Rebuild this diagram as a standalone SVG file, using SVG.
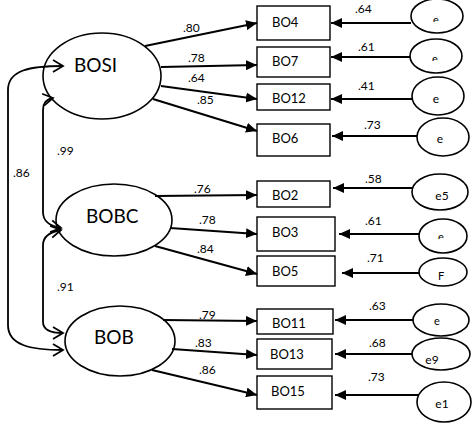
<svg xmlns="http://www.w3.org/2000/svg" width="474" height="424" viewBox="0 0 474 424">
<defs>
<style>
.lat{fill:#fff;stroke:#000;stroke-width:1.6}
.box{fill:#fff;stroke:#000;stroke-width:1.4}
.err{fill:#fff;stroke:#000;stroke-width:1.6}
.ln{fill:none;stroke:#000;stroke-width:2}
.cov{fill:none;stroke:#000;stroke-width:1.8}
.big{font-family:Lato,"Liberation Sans",sans-serif;font-size:19px;fill:#000}
.bl{font-family:Lato,"Liberation Sans",sans-serif;font-size:13px;fill:#000}
.num{font-family:Lato,"Liberation Sans",sans-serif;font-size:12px;fill:#000}
.el{font-family:Lato,"Liberation Sans",sans-serif;font-size:12px;fill:#000;text-anchor:middle}
.els{font-family:Lato,"Liberation Sans",sans-serif;font-size:11px;fill:#000;text-anchor:middle}
</style>
<marker id="ah" markerUnits="userSpaceOnUse" markerWidth="12" markerHeight="10" refX="11" refY="5" orient="auto">
<path d="M0,0 L11,5 L0,10 z" fill="#000"/>
</marker>
<marker id="ov" markerUnits="userSpaceOnUse" markerWidth="14" markerHeight="16" refX="11" refY="7" orient="auto-start-reverse">
<path d="M1,1 L11,7 L1,13" fill="none" stroke="#000" stroke-width="1.8"/>
</marker>
<clipPath id="ctop"><rect x="0" y="0" width="474" height="22"/></clipPath>
<clipPath id="ctop2"><rect x="0" y="0" width="474" height="61"/></clipPath>
<clipPath id="ctop3"><rect x="0" y="0" width="474" height="239"/></clipPath>
</defs>

<g id="BOSI"><ellipse class="lat" cx="102" cy="76" rx="59" ry="43"/><text class="big" x="74" y="72">BOSI</text></g>
<g id="BOBC"><ellipse class="lat" cx="114" cy="220" rx="58" ry="36"/><text class="big" x="86" y="223">BOBC</text></g>
<g id="BOB"><ellipse class="lat" cx="120" cy="341" rx="55" ry="35"/><text class="big" x="94" y="344">BOB</text></g>

<g id="BO4"><rect class="box" x="257" y="6" width="73" height="34"/><text class="bl" x="272" y="27">BO4</text></g>
<g id="BO7"><rect class="box" x="257" y="47" width="73" height="30"/><text class="bl" x="272" y="66">BO7</text></g>
<g id="BO12"><rect class="box" x="257" y="84" width="73" height="26"/><text class="bl" x="272" y="103">BO12</text></g>
<g id="BO6"><rect class="box" x="257" y="124" width="73" height="32"/><text class="bl" x="272" y="143">BO6</text></g>
<g id="BO2"><rect class="box" x="257" y="181" width="73" height="26"/><text class="bl" x="272" y="200">BO2</text></g>
<g id="BO3"><rect class="box" x="257" y="217" width="78" height="34"/><text class="bl" x="272" y="237">BO3</text></g>
<g id="BO5"><rect class="box" x="257" y="256" width="78" height="30"/><text class="bl" x="272" y="276">BO5</text></g>
<g id="BO11"><rect class="box" x="257" y="309" width="76" height="25"/><text class="bl" x="272" y="328">BO11</text></g>
<g id="BO13"><rect class="box" x="257" y="339" width="75" height="30"/><text class="bl" x="270" y="359">BO13</text></g>
<g id="BO15"><rect class="box" x="257" y="376" width="75" height="33"/><text class="bl" x="271" y="396">BO15</text></g>

<g id="e_BO4"><ellipse class="err" cx="437" cy="16" rx="26" ry="17"/><text class="els" x="436" y="24" clip-path="url(#ctop)">e</text></g>
<g id="e_BO7"><ellipse class="err" cx="436" cy="56" rx="26" ry="17"/><text class="els" x="435" y="63" clip-path="url(#ctop2)">e</text></g>
<g id="e_BO12"><ellipse class="err" cx="438" cy="96" rx="26" ry="19"/><text class="el" x="436" y="103">e</text></g>
<g id="e_BO6"><ellipse class="err" cx="443" cy="137" rx="26" ry="19"/><text class="el" x="440" y="143">e</text></g>
<g id="e5"><ellipse class="err" cx="440" cy="192" rx="28" ry="18"/><text class="el" x="442" y="200">e5</text></g>
<g id="e_BO3"><ellipse class="err" cx="443" cy="236" rx="24" ry="17"/><text class="els" x="441" y="241" clip-path="url(#ctop3)">e</text></g>
<g id="F"><ellipse class="err" cx="443" cy="272" rx="24" ry="14"/><text class="els" x="441" y="280">F</text></g>
<g id="e_BO11"><ellipse class="err" cx="441" cy="320" rx="28" ry="16"/><text class="els" x="437" y="325">e</text></g>
<g id="e9"><ellipse class="err" cx="441" cy="354" rx="29" ry="16"/><text class="el" x="432" y="364">e9</text></g>
<g id="e1"><ellipse class="err" cx="444" cy="402" rx="27" ry="20"/><text class="el" x="442" y="408">e1</text></g>

<g id="connectors">
<line class="ln" x1="145" y1="46" x2="257" y2="23" marker-end="url(#ah)"/>
<line class="ln" x1="161" y1="67" x2="257" y2="65" marker-end="url(#ah)"/>
<line class="ln" x1="161" y1="86" x2="257" y2="99" marker-end="url(#ah)"/>
<line class="ln" x1="153" y1="99" x2="257" y2="131" marker-end="url(#ah)"/>
<line class="ln" x1="155" y1="196" x2="257" y2="195" marker-end="url(#ah)"/>
<line class="ln" x1="170" y1="228" x2="257" y2="234" marker-end="url(#ah)"/>
<line class="ln" x1="155" y1="246" x2="257" y2="274" marker-end="url(#ah)"/>
<line class="ln" x1="163" y1="320" x2="257" y2="321" marker-end="url(#ah)"/>
<line class="ln" x1="172" y1="349" x2="257" y2="355" marker-end="url(#ah)"/>
<line class="ln" x1="152" y1="370" x2="257" y2="395" marker-end="url(#ah)"/>

<line class="ln" x1="411" y1="23" x2="331" y2="23" marker-end="url(#ah)"/>
<line class="ln" x1="410" y1="57" x2="331" y2="57" marker-end="url(#ah)"/>
<line class="ln" x1="412" y1="99" x2="331" y2="99" marker-end="url(#ah)"/>
<line class="ln" x1="417" y1="136" x2="332" y2="136" marker-end="url(#ah)"/>
<line class="ln" x1="413" y1="188" x2="333" y2="188" marker-end="url(#ah)"/>
<line class="ln" x1="419" y1="234" x2="339" y2="234" marker-end="url(#ah)"/>
<line class="ln" x1="419" y1="273" x2="342" y2="273" marker-end="url(#ah)"/>
<line class="ln" x1="413" y1="320" x2="335" y2="320" marker-end="url(#ah)"/>
<line class="ln" x1="412" y1="354" x2="335" y2="354" marker-end="url(#ah)"/>
<line class="ln" x1="418" y1="395" x2="335" y2="395" marker-end="url(#ah)"/>

<path class="cov" d="M63,66 C30,66 8,70 8,90 L8,325 C8,345 30,350 63,350" marker-start="url(#ov)" marker-end="url(#ov)"/>
<path class="cov" d="M53,98 C47,99 43,102 43,110 L43,212 C43,222 50,226 61,228" marker-start="url(#ov)" marker-end="url(#ov)"/>
<path class="cov" d="M61,230 C50,232 43,236 43,245 L43,322 C43,330 50,333 63,333" marker-start="url(#ov)" marker-end="url(#ov)"/>

<text class="num" x="183" y="32">.80</text>
<text class="num" x="188" y="62">.78</text>
<text class="num" x="188" y="82">.64</text>
<text class="num" x="197" y="104">.85</text>
<text class="num" x="57" y="155">.99</text>
<text class="num" x="13" y="177">.86</text>
<text class="num" x="194" y="193">.76</text>
<text class="num" x="199" y="224">.78</text>
<text class="num" x="197" y="253">.84</text>
<text class="num" x="57" y="291">.91</text>
<text class="num" x="199" y="319">.79</text>
<text class="num" x="195" y="347">.83</text>
<text class="num" x="199" y="374">.86</text>

<text class="num" x="355" y="13">.64</text>
<text class="num" x="358" y="51">.61</text>
<text class="num" x="358" y="90">.41</text>
<text class="num" x="364" y="129">.73</text>
<text class="num" x="365" y="183">.58</text>
<text class="num" x="365" y="225">.61</text>
<text class="num" x="367" y="262">.71</text>
<text class="num" x="369" y="310">.63</text>
<text class="num" x="369" y="347">.68</text>
<text class="num" x="368" y="381">.73</text>
</g>
</svg>
